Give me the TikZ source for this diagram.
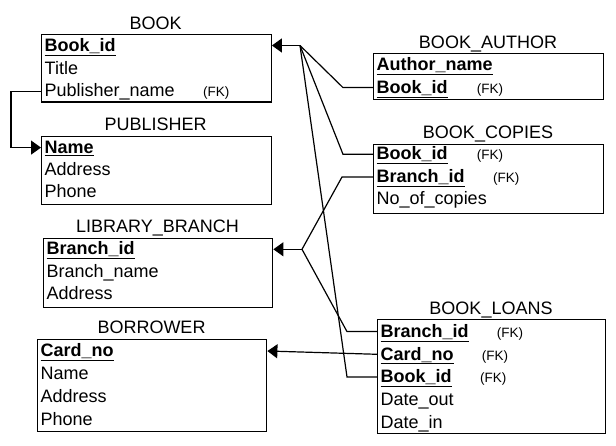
\documentclass[tikz,border=0pt]{standalone}
\usepackage{fontspec}
\setmainfont{Liberation Sans}
\usetikzlibrary{arrows.meta}
\tikzset{
  ebox/.style={draw, line width=1.4pt, inner sep=0pt, anchor=north west},
  etitle/.style={anchor=base, inner sep=0pt, font=\fontsize{18pt}{22pt}\selectfont},
  erow/.style={anchor=west, inner sep=0pt, text height=13pt, text depth=1.6pt, font=\fontsize{18pt}{22pt}\selectfont},
  fk/.style={anchor=west, inner sep=0pt, text height=13pt, text depth=1.6pt, font=\fontsize{13.5pt}{16pt}\selectfont},
  conn/.style={draw, line width=1.2pt, line join=miter},
  arr/.style={conn, -{Triangle[length=10pt,width=14pt]}},
}
\newcommand{\keyf}[1]{\underline{\textbf{#1}}}
\begin{document}
\begin{tikzpicture}[x=1pt,y=-1pt]
\useasboundingbox (0,0) rectangle (616,446);
% BOOK
\node[ebox, minimum width=229.5pt, minimum height=67.5pt] (book) at (41,34) {};
\node[etitle] (bookt) at (155.7,29.3) {BOOK};
\node[erow] (bk1) at (44.5,46) {\keyf{Book\_id}};
\node[erow] (bk2) at (44.5,68.8) {Title};
\node[erow] (bk3) at (44.5,91.3) {Publisher\_name};
\node[fk] (bk3f) at (203,91.3) {(FK)};
% PUBLISHER
\node[ebox, minimum width=229.5pt, minimum height=68pt] (pub) at (41,136) {};
\node[etitle] (pubt) at (155.7,130.7) {PUBLISHER};
\node[erow] (pb1) at (44.5,147.6) {\keyf{Name}};
\node[erow] (pb2) at (44.5,170) {Address};
\node[erow] (pb3) at (44.5,191.8) {Phone};
% LIBRARY_BRANCH
\node[ebox, minimum width=229pt, minimum height=69pt] (lib) at (43,237.7) {};
\node[etitle] (libt) at (157.5,232.7) {LIBRARY\_BRANCH};
\node[erow] (lb1) at (46.5,249.3) {\keyf{Branch\_id}};
\node[erow] (lb2) at (46.5,271.8) {Branch\_name};
\node[erow] (lb3) at (46.5,294.3) {Address};
% BORROWER
\node[ebox, minimum width=229pt, minimum height=92pt] (bor) at (37,339) {};
\node[etitle] (bort) at (151.5,334) {BORROWER};
\node[erow] (bw1) at (40.5,351) {\keyf{Card\_no}};
\node[erow] (bw2) at (40.5,373.8) {Name};
\node[erow] (bw3) at (40.5,396.6) {Address};
\node[erow] (bw4) at (40.5,419.3) {Phone};
% BOOK_AUTHOR
\node[ebox, minimum width=230pt, minimum height=46pt] (ba) at (373,53) {};
\node[etitle] (bat) at (488,48.3) {BOOK\_AUTHOR};
\node[erow] (ba1) at (376.5,65) {\keyf{Author\_name}};
\node[erow] (ba2) at (376.5,87.6) {\keyf{Book\_id}};
\node[fk] (ba2f) at (476.7,87.6) {(FK)};
% BOOK_COPIES
\node[ebox, minimum width=230pt, minimum height=69pt] (bc) at (373,144) {};
\node[etitle] (bct) at (488,138.3) {BOOK\_COPIES};
\node[erow] (bc1) at (376.5,154.3) {\keyf{Book\_id}};
\node[fk] (bc1f) at (476.7,154.3) {(FK)};
\node[erow] (bc2) at (376.5,177) {\keyf{Branch\_id}};
\node[fk] (bc2f) at (493,177) {(FK)};
\node[erow] (bc3) at (376.5,199.3) {No\_of\_copies};
% BOOK_LOANS
\node[ebox, minimum width=228pt, minimum height=114pt] (bl) at (377,319) {};
\node[etitle] (blt) at (491,315) {BOOK\_LOANS};
\node[erow] (bl1) at (380.5,331.6) {\keyf{Branch\_id}};
\node[fk] (bl1f) at (496.7,331.6) {(FK)};
\node[erow] (bl2) at (380.5,354.3) {\keyf{Card\_no}};
\node[fk] (bl2f) at (481.7,354.3) {(FK)};
\node[erow] (bl3) at (380.5,377) {\keyf{Book\_id}};
\node[fk] (bl3f) at (480,377) {(FK)};
\node[erow] (bl4) at (380.5,399.3) {Date\_out};
\node[erow] (bl5) at (380.5,422.3) {Date\_in};
% junctions
\coordinate (jbook) at (300,45.5);
\coordinate (jlib) at (302,249.3);
% connectors
\draw[arr] (book.west |- bk3.west) -- ++(-30,0) |- (pub.west |- pb1.west);
\draw[arr] (jbook) -- (book.east |- jbook);
\draw[conn] (ba.west |- ba2.west) -- ++(-30,0) -- (jbook);
\draw[conn] (bc.west |- bc1.west) -- ++(-30,0) -- (jbook);
\draw[conn] (bl.west |- bl3.west) -- ++(-30,0) -- (jbook);
\draw[arr] (jlib) -- (lib.east |- jlib);
\draw[conn] (bc.west |- bc2.west) -- ++(-31,0) -- (jlib);
\draw[conn] (bl.west |- bl1.west) -- ++(-30,0) -- (jlib);
\draw[arr] (bl.west |- bl2.west) -- (bor.east |- bw1.west);
\end{tikzpicture}
\end{document}
